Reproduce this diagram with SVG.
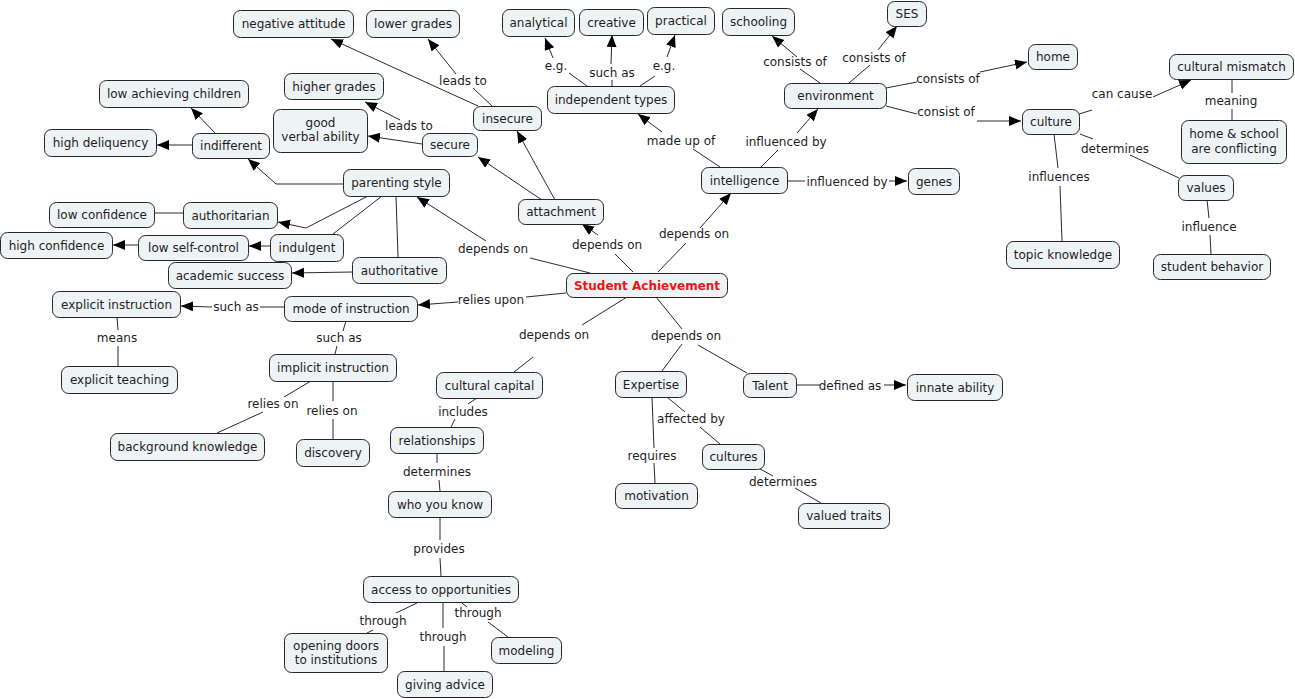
<svg xmlns="http://www.w3.org/2000/svg" width="1295" height="699" viewBox="0 0 1295 699">
<style>
.n rect{fill:#eef3f5;stroke:#262626;stroke-width:1}
text{font-family:"DejaVu Sans",Verdana,sans-serif;font-size:12px;fill:#1e1e1e;text-anchor:middle}
.root text{fill:#e8161b;font-weight:bold}
#connectors path{fill:none;stroke:#2a2a2a;stroke-width:1}
#connectors path.a{marker-end:url(#ah)}
</style>
<defs>
<marker id="ah" markerUnits="userSpaceOnUse" markerWidth="13" markerHeight="11" refX="12" refY="5" orient="auto">
<path d="M0,0 L12,5 L0,10 z" fill="#000"/>
</marker>
</defs>
<rect x="0" y="0" width="1295" height="699" fill="#ffffff"/>
<g id="connectors">
<path class="a" d="M478,106 L331,39"/>
<path d="M492,106 L473,88"/>
<path class="a" d="M456,74 L428,39"/>
<path class="a" d="M422,144 L368,136"/>
<path class="a" d="M400,120 L365,102"/>
<path d="M587,86 L569,73"/>
<path class="a" d="M553,58 L545,38"/>
<path d="M612,86 L612,80"/>
<path class="a" d="M611,64 L612,35"/>
<path d="M640,86 L655,76"/>
<path class="a" d="M667,57 L675,35"/>
<path d="M720,167 L693,149"/>
<path class="a" d="M662,132 L638,114"/>
<path d="M761,167 L778,150"/>
<path class="a" d="M797,133 L818,109"/>
<path d="M787,181 L805,181"/>
<path class="a" d="M889,181 L907,181"/>
<path d="M820,83 L800,69"/>
<path class="a" d="M797,57 L772,36"/>
<path d="M849,83 L870,65"/>
<path class="a" d="M878,50 L897,26"/>
<path d="M886,88 L917,82"/>
<path class="a" d="M980,72 L1027,62"/>
<path d="M886,106 L917,114"/>
<path class="a" d="M977,121 L1021,121"/>
<path d="M1079,114 L1092,110"/>
<path class="a" d="M1153,97 L1191,80"/>
<path d="M1232,79 L1232,93 M1232,109 L1232,120"/>
<path d="M1080,134 L1093,139 M1130,155 L1179,178"/>
<path d="M1054,134 L1058,168 M1060,186 L1062,241"/>
<path d="M1207,200 L1209,218 M1210,235 L1211,254"/>
<path class="a" d="M343,184 L276,184 L248,159"/>
<path class="a" d="M368,196 L306,228 L278,222"/>
<path d="M382,196 L333,234"/>
<path d="M396,196 L398,257"/>
<path class="a" d="M215,133 L191,108"/>
<path class="a" d="M192,145 L157,145"/>
<path d="M183,213 L154,213"/>
<path class="a" d="M270,246 L249,246"/>
<path class="a" d="M138,245 L113,245"/>
<path class="a" d="M352,272 L292,273"/>
<path class="a" d="M542,200 L478,157"/>
<path class="a" d="M555,200 L517,131"/>
<path d="M590,273 L530,258"/>
<path class="a" d="M486,241 L417,197"/>
<path d="M633,272 L615,254"/>
<path class="a" d="M598,235 L582,224"/>
<path d="M658,272 L686,243"/>
<path class="a" d="M700,228 L731,193"/>
<path d="M566,293 L526,297"/>
<path class="a" d="M458,302 L418,305"/>
<path d="M284,307 L260,307"/>
<path class="a" d="M212,307 L181,306"/>
<path d="M797,385 L820,385"/>
<path class="a" d="M884,385 L906,385"/>
<path d="M346,321 L343,331 M337,346 L335,354"/>
<path d="M117,317 L118,330 M118,346 L118,366"/>
<path d="M311,381 L284,397 M263,412 L217,433"/>
<path d="M333,381 L333,401 M333,419 L333,439"/>
<path d="M627,297 L582,325 M533,357 L514,372"/>
<path d="M656,297 L682,329 M682,344 L662,371 M698,345 L747,373"/>
<path d="M667,397 L685,412 M700,427 L720,444"/>
<path d="M652,397 L654,448 M654,463 L655,483"/>
<path d="M760,469 L773,476 M795,488 L821,503"/>
<path d="M477,398 L468,404 M455,419 L451,427"/>
<path d="M437,453 L437,463 M439,480 L440,491"/>
<path d="M440,517 L440,540 M440,558 L441,576"/>
<path d="M417,603 L396,613 M373,630 L367,633"/>
<path d="M443,603 L443,628 M444,646 L444,671"/>
<path d="M462,603 L467,607 M488,622 L508,637"/>
</g>
<g id="labels">
<text x="463" y="85">leads to</text>
<text x="409" y="130">leads to</text>
<text x="556" y="70">e.g.</text>
<text x="612" y="77">such as</text>
<text x="664" y="70">e.g.</text>
<text x="681" y="145">made up of</text>
<text x="786" y="146">influenced by</text>
<text x="847" y="186">influenced by</text>
<text x="795" y="66">consists of</text>
<text x="874" y="62">consists of</text>
<text x="948" y="83">consists of</text>
<text x="946" y="116">consist of</text>
<text x="1122" y="98">can cause</text>
<text x="1231" y="105">meaning</text>
<text x="1115" y="153">determines</text>
<text x="1059" y="181">influences</text>
<text x="1209" y="231">influence</text>
<text x="493" y="253">depends on</text>
<text x="607" y="249">depends on</text>
<text x="694" y="238">depends on</text>
<text x="491" y="304">relies upon</text>
<text x="236" y="311">such as</text>
<text x="339" y="342">such as</text>
<text x="117" y="342">means</text>
<text x="273" y="408">relies on</text>
<text x="332" y="415">relies on</text>
<text x="554" y="339">depends on</text>
<text x="686" y="340">depends on</text>
<text x="850" y="390">defined as</text>
<text x="691" y="423">affected by</text>
<text x="652" y="460">requires</text>
<text x="783" y="486">determines</text>
<text x="463" y="416">includes</text>
<text x="437" y="476">determines</text>
<text x="439" y="553">provides</text>
<text x="383" y="625">through</text>
<text x="443" y="641">through</text>
<text x="478" y="617">through</text>
</g>
<g id="n1" class="n"><rect x="233.5" y="10.5" width="120" height="27" rx="7"/><text x="293.5" y="28">negative attitude</text></g>
<g id="n2" class="n"><rect x="366.5" y="10.5" width="93" height="27" rx="7"/><text x="413" y="28">lower grades</text></g>
<g id="n3" class="n"><rect x="502.5" y="9.5" width="72" height="27" rx="7"/><text x="538.5" y="27">analytical</text></g>
<g id="n4" class="n"><rect x="579.5" y="9.5" width="64" height="26" rx="7"/><text x="611.5" y="26.5">creative</text></g>
<g id="n5" class="n"><rect x="647.5" y="7.5" width="67" height="27" rx="7"/><text x="681" y="25">practical</text></g>
<g id="n6" class="n"><rect x="722.5" y="8.5" width="72" height="27" rx="7"/><text x="758.5" y="26">schooling</text></g>
<g id="n7" class="n"><rect x="887.5" y="1.5" width="39" height="25" rx="7"/><text x="907" y="18">SES</text></g>
<g id="n8" class="n"><rect x="1028.5" y="44.5" width="49" height="25" rx="7"/><text x="1053" y="61">home</text></g>
<g id="n9" class="n"><rect x="1169.5" y="54.5" width="124" height="25" rx="7"/><text x="1231.5" y="71">cultural mismatch</text></g>
<g id="n10" class="n"><rect x="1181.5" y="120.5" width="105" height="43" rx="7"/><text x="1234" y="138">home &amp; school</text><text x="1234" y="153">are conflicting</text></g>
<g id="n11" class="n"><rect x="1022.5" y="109.5" width="57" height="25" rx="7"/><text x="1051" y="126">culture</text></g>
<g id="n12" class="n"><rect x="1178.5" y="175.5" width="55" height="25" rx="7"/><text x="1206" y="192">values</text></g>
<g id="n13" class="n"><rect x="1006.5" y="241.5" width="113" height="27" rx="7"/><text x="1063" y="259">topic knowledge</text></g>
<g id="n14" class="n"><rect x="1153.5" y="254.5" width="117" height="25" rx="7"/><text x="1212" y="271">student behavior</text></g>
<g id="n15" class="n"><rect x="784.5" y="83.5" width="102" height="25" rx="7"/><text x="835.5" y="100">environment</text></g>
<g id="n16" class="n"><rect x="547.5" y="86.5" width="127" height="27" rx="7"/><text x="611" y="104">independent types</text></g>
<g id="n17" class="n"><rect x="701.5" y="167.5" width="86" height="26" rx="7"/><text x="744.5" y="184.5">intelligence</text></g>
<g id="n18" class="n"><rect x="908.5" y="168.5" width="51" height="26" rx="7"/><text x="934" y="185.5">genes</text></g>
<g id="n19" class="n"><rect x="473.5" y="106.5" width="68" height="24" rx="7"/><text x="507.5" y="122.5">insecure</text></g>
<g id="n20" class="n"><rect x="422.5" y="133.5" width="55" height="23" rx="7"/><text x="450" y="149">secure</text></g>
<g id="n21" class="n"><rect x="284.5" y="73.5" width="99" height="26" rx="7"/><text x="334" y="90.5">higher grades</text></g>
<g id="n22" class="n"><rect x="273.5" y="109.5" width="94" height="43" rx="7"/><text x="320.5" y="127">good</text><text x="320.5" y="141">verbal ability</text></g>
<g id="n23" class="n"><rect x="99.5" y="80.5" width="149" height="27" rx="7"/><text x="174" y="98">low achieving children</text></g>
<g id="n24" class="n"><rect x="44.5" y="129.5" width="112" height="27" rx="7"/><text x="100.5" y="147">high deliquency</text></g>
<g id="n25" class="n"><rect x="192.5" y="133.5" width="77" height="25" rx="7"/><text x="231" y="150">indifferent</text></g>
<g id="n26" class="n"><rect x="343.5" y="169.5" width="106" height="27" rx="7"/><text x="396.5" y="187">parenting style</text></g>
<g id="n27" class="n"><rect x="518.5" y="199.5" width="85" height="25" rx="7"/><text x="561" y="216">attachment</text></g>
<g id="n28" class="n"><rect x="49.5" y="202.5" width="105" height="25" rx="7"/><text x="102" y="219">low confidence</text></g>
<g id="n29" class="n"><rect x="183.5" y="202.5" width="94" height="26" rx="7"/><text x="230.5" y="219.5">authoritarian</text></g>
<g id="n30" class="n"><rect x="0.5" y="232.5" width="112" height="26" rx="7"/><text x="56.5" y="249.5">high confidence</text></g>
<g id="n31" class="n"><rect x="138.5" y="235.5" width="110" height="25" rx="7"/><text x="193.5" y="252">low self-control</text></g>
<g id="n32" class="n"><rect x="270.5" y="234.5" width="73" height="27" rx="7"/><text x="307" y="252">indulgent</text></g>
<g id="n33" class="n"><rect x="168.5" y="262.5" width="123" height="26" rx="7"/><text x="230" y="279.5">academic success</text></g>
<g id="n34" class="n"><rect x="352.5" y="257.5" width="94" height="26" rx="7"/><text x="399.5" y="274.5">authoritative</text></g>
<g id="n35" class="n root"><rect x="566.5" y="273.5" width="161" height="24" rx="7"/><text x="647" y="289.5">Student Achievement</text></g>
<g id="n36" class="n"><rect x="52.5" y="291.5" width="128" height="26" rx="7"/><text x="116.5" y="308.5">explicit instruction</text></g>
<g id="n37" class="n"><rect x="284.5" y="296.5" width="133" height="25" rx="7"/><text x="351" y="313">mode of instruction</text></g>
<g id="n38" class="n"><rect x="61.5" y="366.5" width="116" height="27" rx="7"/><text x="119.5" y="384">explicit teaching</text></g>
<g id="n39" class="n"><rect x="269.5" y="354.5" width="127" height="27" rx="7"/><text x="333" y="372">implicit instruction</text></g>
<g id="n40" class="n"><rect x="110.5" y="433.5" width="154" height="27" rx="7"/><text x="187.5" y="451">background knowledge</text></g>
<g id="n41" class="n"><rect x="296.5" y="439.5" width="73" height="27" rx="7"/><text x="333" y="457">discovery</text></g>
<g id="n42" class="n"><rect x="436.5" y="372.5" width="106" height="26" rx="7"/><text x="489.5" y="389.5">cultural capital</text></g>
<g id="n43" class="n"><rect x="390.5" y="427.5" width="93" height="26" rx="7"/><text x="437" y="444.5">relationships</text></g>
<g id="n44" class="n"><rect x="615.5" y="371.5" width="71" height="26" rx="7"/><text x="651" y="388.5">Expertise</text></g>
<g id="n45" class="n"><rect x="743.5" y="373.5" width="53" height="24" rx="7"/><text x="770" y="389.5">Talent</text></g>
<g id="n46" class="n"><rect x="907.5" y="374.5" width="95" height="26" rx="7"/><text x="955" y="391.5">innate ability</text></g>
<g id="n47" class="n"><rect x="702.5" y="444.5" width="62" height="25" rx="7"/><text x="733.5" y="461">cultures</text></g>
<g id="n48" class="n"><rect x="615.5" y="483.5" width="82" height="25" rx="7"/><text x="656.5" y="500">motivation</text></g>
<g id="n49" class="n"><rect x="798.5" y="503.5" width="91" height="25" rx="7"/><text x="844" y="520">valued traits</text></g>
<g id="n50" class="n"><rect x="388.5" y="491.5" width="103" height="26" rx="7"/><text x="440" y="508.5">who you know</text></g>
<g id="n51" class="n"><rect x="363.5" y="576.5" width="155" height="26" rx="7"/><text x="441" y="593.5">access to opportunities</text></g>
<g id="n52" class="n"><rect x="284.5" y="633.5" width="103" height="39" rx="7"/><text x="336" y="650">opening doors</text><text x="336" y="664">to institutions</text></g>
<g id="n53" class="n"><rect x="397.5" y="671.5" width="95" height="26" rx="7"/><text x="445" y="688.5">giving advice</text></g>
<g id="n54" class="n"><rect x="491.5" y="637.5" width="70" height="26" rx="7"/><text x="526.5" y="654.5">modeling</text></g>
</svg>
